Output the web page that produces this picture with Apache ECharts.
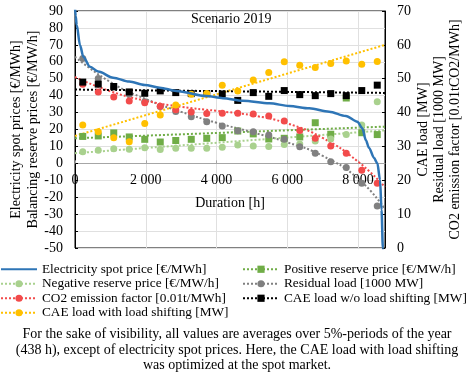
<!DOCTYPE html>
<html><head><meta charset="utf-8">
<script src="https://cdn.jsdelivr.net/npm/echarts@6/dist/echarts.min.js"></script>
<style>html,body{margin:0;padding:0;background:#fff}#c{width:474px;height:377px}</style>
</head><body><div id="c"></div>
<script>
// ---- data ----
const periodHours = [219, 657, 1095, 1533, 1971, 2409, 2847, 3285, 3723, 4161, 4599, 5037, 5475, 5913, 6351, 6789, 7227, 7665, 8103, 8541];
const positiveReserve = [15.9,16.2,18.0,15.6,14.2,12.6,13.5,14.2,14.8,15.2,19.1,17.4,14.4,14.8,15.6,24.0,17.2,38.6,18.1,17.0];
const negativeReserve = [6.9,7.7,8.6,8.3,9.2,8.2,8.9,8.9,8.9,9.5,10.9,10.3,9.9,11.2,11.5,13.2,14.4,17.0,22.7,36.4];
const co2Factor = [48.4,46.1,44.6,43.4,42.9,41.9,40.8,40.2,39.7,39.8,39.8,39.6,39.0,37.5,34.7,32.4,30.1,28.0,23.0,19.1];
const residualLoad = [56.0,50.1,47.5,45.4,43.2,41.8,40.3,38.8,37.3,36.0,34.6,34.3,33.4,32.1,29.9,28.0,25.5,23.8,19.1,12.4];
const caeShift = [36.3,34.3,32.6,31.4,36.8,39.3,42.2,45.4,45.6,48.1,46.4,49.6,51.8,55.0,54.0,53.3,54.5,55.2,54.3,55.1];
const caeNoShift = [49.0,48.4,47.7,46.1,45.7,46.4,45.9,45.6,45.6,45.5,43.6,45.9,44.8,46.5,45.3,45.0,45.6,45.0,46.5,48.1];

const spotHours = [0, 20, 48, 141, 234, 423, 656, 1079, 1530, 1972, 2394, 2865, 3710, 4177, 4741, 5493, 6056, 6620, 7183, 7654, 7980, 8121, 8217, 8310, 8451, 8544, 8620, 8662, 8700, 8760];
const spotPrice = [92, 87, 81.7, 69.9, 63.0, 57.1, 54.2, 50.6, 48.3, 46.3, 44.7, 42.8, 39.8, 38.5, 37.0, 35.5, 33.9, 32.5, 30.5, 28.0, 24.6, 20.7, 13.8, 9.1, 3.2, 0, -9.8, -27.5, -50, -70];

// trend lines
const curveTrendHours = [0, 1000, 2000, 3000, 4000, 5000, 6000, 7000, 8000, 8760];
const co2Trend = [50.5, 46.3, 43.5, 41.7, 40.5, 39.2, 36.8, 32.5, 25.5, 18.0];
const residualTrend = [56.5, 49.0, 44.0, 40.2, 37.0, 34.2, 31.2, 27.2, 20.5, 11.5];
const lineTrendHours = [0, 8760];
const positiveTrend = [14.8, 21.7];
const negativeTrend = [6.0, 19.5];
const caeShiftTrend = [33.1, 60.0];
const caeNoShiftTrend = [46.8, 45.8];

const xTicks = [0, 2000, 4000, 6000, 8000];

const names = {
  spot: 'Electricity spot price [€/MWh]',
  neg: 'Negative reserve price [€/MW/h]',
  co2: 'CO2 emission factor [0.01t/MWh]',
  caeS: 'CAE load with load shifting [MW]',
  pos: 'Positive reserve price [€/MW/h]',
  res: 'Residual load [1000 MW]',
  caeN: 'CAE load w/o load shifting [MW]'
};
const footnote = 'For the sake of visibility, all values are averages over 5%-periods of the year\n(438 h), except of electricity spot prices. Here, the CAE load with load shifting\nwas optimized at the spot market.';

// ---- build ----
const FONT = "'Liberation Serif', 'Times New Roman', serif";
const zip = (xs, ys) => xs.map((x, i) => [x, ys[i]]);

function group(name, color, symbol, axis, pts, tHours, tVals, smooth) {
  return [
    { name, type: 'line', yAxisIndex: axis, data: zip(tHours, tVals), smooth: smooth ? 0.5 : false,
      showSymbol: false, symbol, symbolSize: 7, silent: true,
      lineStyle: { type: 'dotted', width: 2, color }, itemStyle: { color }, z: 2 },
    { name, type: 'scatter', yAxisIndex: axis, data: zip(periodHours, pts), symbol, symbolSize: 7,
      itemStyle: { color, opacity: 1 }, z: 3 }
  ];
}

const series = [
  ...group(names.pos, '#70AD47', 'rect', 0, positiveReserve, lineTrendHours, positiveTrend, false),
  ...group(names.neg, '#A9D18E', 'circle', 0, negativeReserve, lineTrendHours, negativeTrend, false),
  ...group(names.res, '#808080', 'circle', 1, residualLoad, curveTrendHours, residualTrend, true),
  ...group(names.co2, '#F24B4B', 'circle', 1, co2Factor, curveTrendHours, co2Trend, true),
  ...group(names.caeN, '#000000', 'rect', 1, caeNoShift, lineTrendHours, caeNoShiftTrend, false),
  ...group(names.caeS, '#FFC000', 'circle', 1, caeShift, lineTrendHours, caeShiftTrend, false),
  { name: names.spot, type: 'line', yAxisIndex: 0, data: zip(spotHours, spotPrice), symbol: 'none',
    showSymbol: false, smooth: 0.3, smoothMonotone: 'x',
    lineStyle: { color: '#2E75B6', width: 2.5 }, itemStyle: { color: '#2E75B6' }, z: 4 }
];

const legendBase = {
  orient: 'vertical', padding: 0, itemGap: 0, itemWidth: 36, itemHeight: 9,
  textStyle: { fontFamily: FONT, fontSize: 13.3, color: '#000', lineHeight: 14.5 },
  selectedMode: false
};

const chart = echarts.init(document.getElementById('c'));
chart.setOption({
  animation: false,
  backgroundColor: '#fff',
  textStyle: { fontFamily: FONT },
  title: [
    { text: 'Scenario 2019', left: 191, top: 12, padding: 0,
      textStyle: { fontFamily: FONT, fontSize: 14, fontWeight: 'normal', color: '#000' } },
    { text: footnote, left: 'center', top: 327, padding: 0,
      textStyle: { fontFamily: FONT, fontSize: 14, fontWeight: 'normal', color: '#000', lineHeight: 15.5 } }
  ],
  legend: [
    Object.assign({}, legendBase, { left: 0, top: 262,
      data: [{ name: names.spot, itemStyle: { opacity: 0 } }, names.neg, names.co2, names.caeS] }),
    Object.assign({}, legendBase, { left: 242, top: 262,
      data: [names.pos, names.res, names.caeN] })
  ],
  grid: { left: 75, right: 89, top: 11, bottom: 129, show: true, borderColor: '#000', borderWidth: 1,
          containLabel: false, outerBoundsMode: 'none' },
  xAxis: {
    type: 'value', min: 0, max: 8760, interval: 2000, position: 'bottom', offset: 0,
    axisLine: { onZero: false, lineStyle: { color: '#a6a6a6', width: 1 } },
    axisTick: { show: true, inside: true, length: 3, lineStyle: { color: '#a6a6a6' } },
    axisLabel: { margin: 10, fontSize: 14, fontFamily: FONT, color: '#000', showMaxLabel: false,
      formatter: v => xTicks.indexOf(v) >= 0 ? String(v).replace(/\B(?=(\d{3})+$)/g, ' ') : '' },
    splitLine: { show: true, lineStyle: { color: '#e0e0e0' } },
    name: 'Duration [h]', nameLocation: 'middle', nameGap: 33, nameMoveOverlap: false,
    nameTextStyle: { fontFamily: FONT, fontSize: 14, color: '#000' }
  },
  yAxis: [
    { type: 'value', min: -50, max: 90, interval: 10, position: 'left',
      axisLine: { show: true, onZero: false, lineStyle: { color: '#000' } },
      axisTick: { show: true, inside: true, length: 3, lineStyle: { color: '#000' } },
      axisLabel: { margin: 12, fontSize: 14, fontFamily: FONT, color: '#000' },
      splitLine: { show: true, lineStyle: { color: '#e0e0e0' } },
      name: 'Electricity spot prices [€/MWh]\nBalancing reserve prices [€/MW/h]',
      nameLocation: 'middle', nameGap: 33, nameRotate: 90, nameMoveOverlap: false,
      nameTextStyle: { fontFamily: FONT, fontSize: 14, color: '#000', lineHeight: 17 } },
    { type: 'value', min: 0, max: 70, interval: 10, position: 'right',
      axisLine: { show: true, onZero: false, lineStyle: { color: '#000' } },
      axisTick: { show: true, inside: true, length: 3, lineStyle: { color: '#000' } },
      axisLabel: { margin: 12, fontSize: 14, fontFamily: FONT, color: '#000' },
      splitLine: { show: false },
      name: 'CAE load [MW]\nResidual load [1000 MW]\nCO2 emission factor [0.01tCO2/MWh]',
      nameLocation: 'middle', nameGap: 30, nameRotate: 90, nameMoveOverlap: false,
      nameTextStyle: { fontFamily: FONT, fontSize: 14, color: '#000', lineHeight: 16 } }
  ],
  series
});
// place the duration axis on the zero of the price axis (library scale)
const zeroY = chart.convertToPixel({ yAxisIndex: 0 }, 0);
const bottomY = chart.convertToPixel({ yAxisIndex: 0 }, -50);
chart.setOption({ xAxis: { offset: zeroY - bottomY } });
</script>
</body></html>
